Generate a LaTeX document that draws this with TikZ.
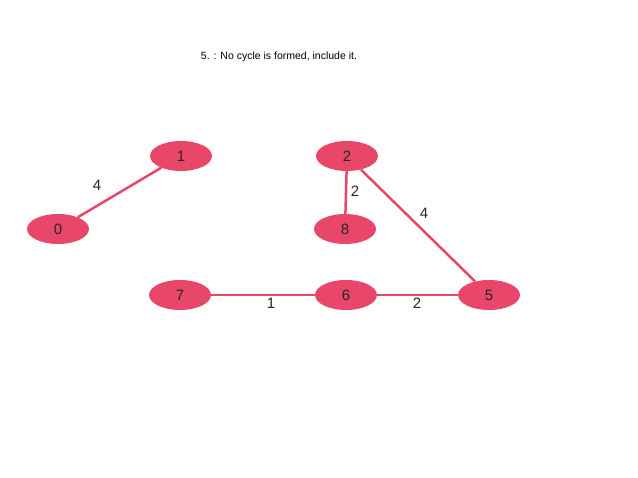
\documentclass[tikz,border=0pt]{standalone}
\usepackage{fontspec}
\setmainfont{Liberation Sans}
\usetikzlibrary{positioning}
\usetikzlibrary{shapes.geometric}
\definecolor{rosered}{HTML}{E8476A}
\tikzset{
  vert/.style={ellipse, fill=rosered, minimum width=62pt, minimum height=30pt, inner sep=0pt, text=black!85, font=\fontsize{15}{15}\selectfont},
  edge/.style={rosered, line width=2.5pt},
  wt/.style={text=black!85, font=\fontsize{15}{15}\selectfont}
}
\begin{document}
\begin{tikzpicture}[x=1pt,y=-1pt]
        \useasboundingbox (0,0) rectangle (638,478);
        % Define the vertices
        \node[vert] (n1) at (181,156) {1};
        \node[vert] (n0) at (58,229) {0};
        \node[vert] (n2) at (347,156) {2};
        \node[vert] (n8) at (345,229) {8};
        \node[vert] (n7) at (180,295) {7};
        \node[vert] (n6) at (346,295) {6};
        \node[vert] (n5) at (489,295) {5};

        % Draw the edges
        \begin{scope}[on background layer/.style={}]
        \draw[edge] (n0) -- (n1);
        \draw[edge] (n2) -- (n8);
        \draw[edge] (n2) -- (n5);
        \draw[edge] (n7) -- (n6);
        \draw[edge] (n6) -- (n5);
        \end{scope}

        % Edge weights
        \foreach \x/\y/\w in {97/185/4, 355/191/2, 424/213/4, 271/303/1, 417/303/2}
        \node[wt] at (\x,\y) {\w};

        \node[font=\fontsize{10.5}{12}\selectfont] (title) at (279,57) {5. : No cycle is formed, include it.};
      \end{tikzpicture}
\end{document}
